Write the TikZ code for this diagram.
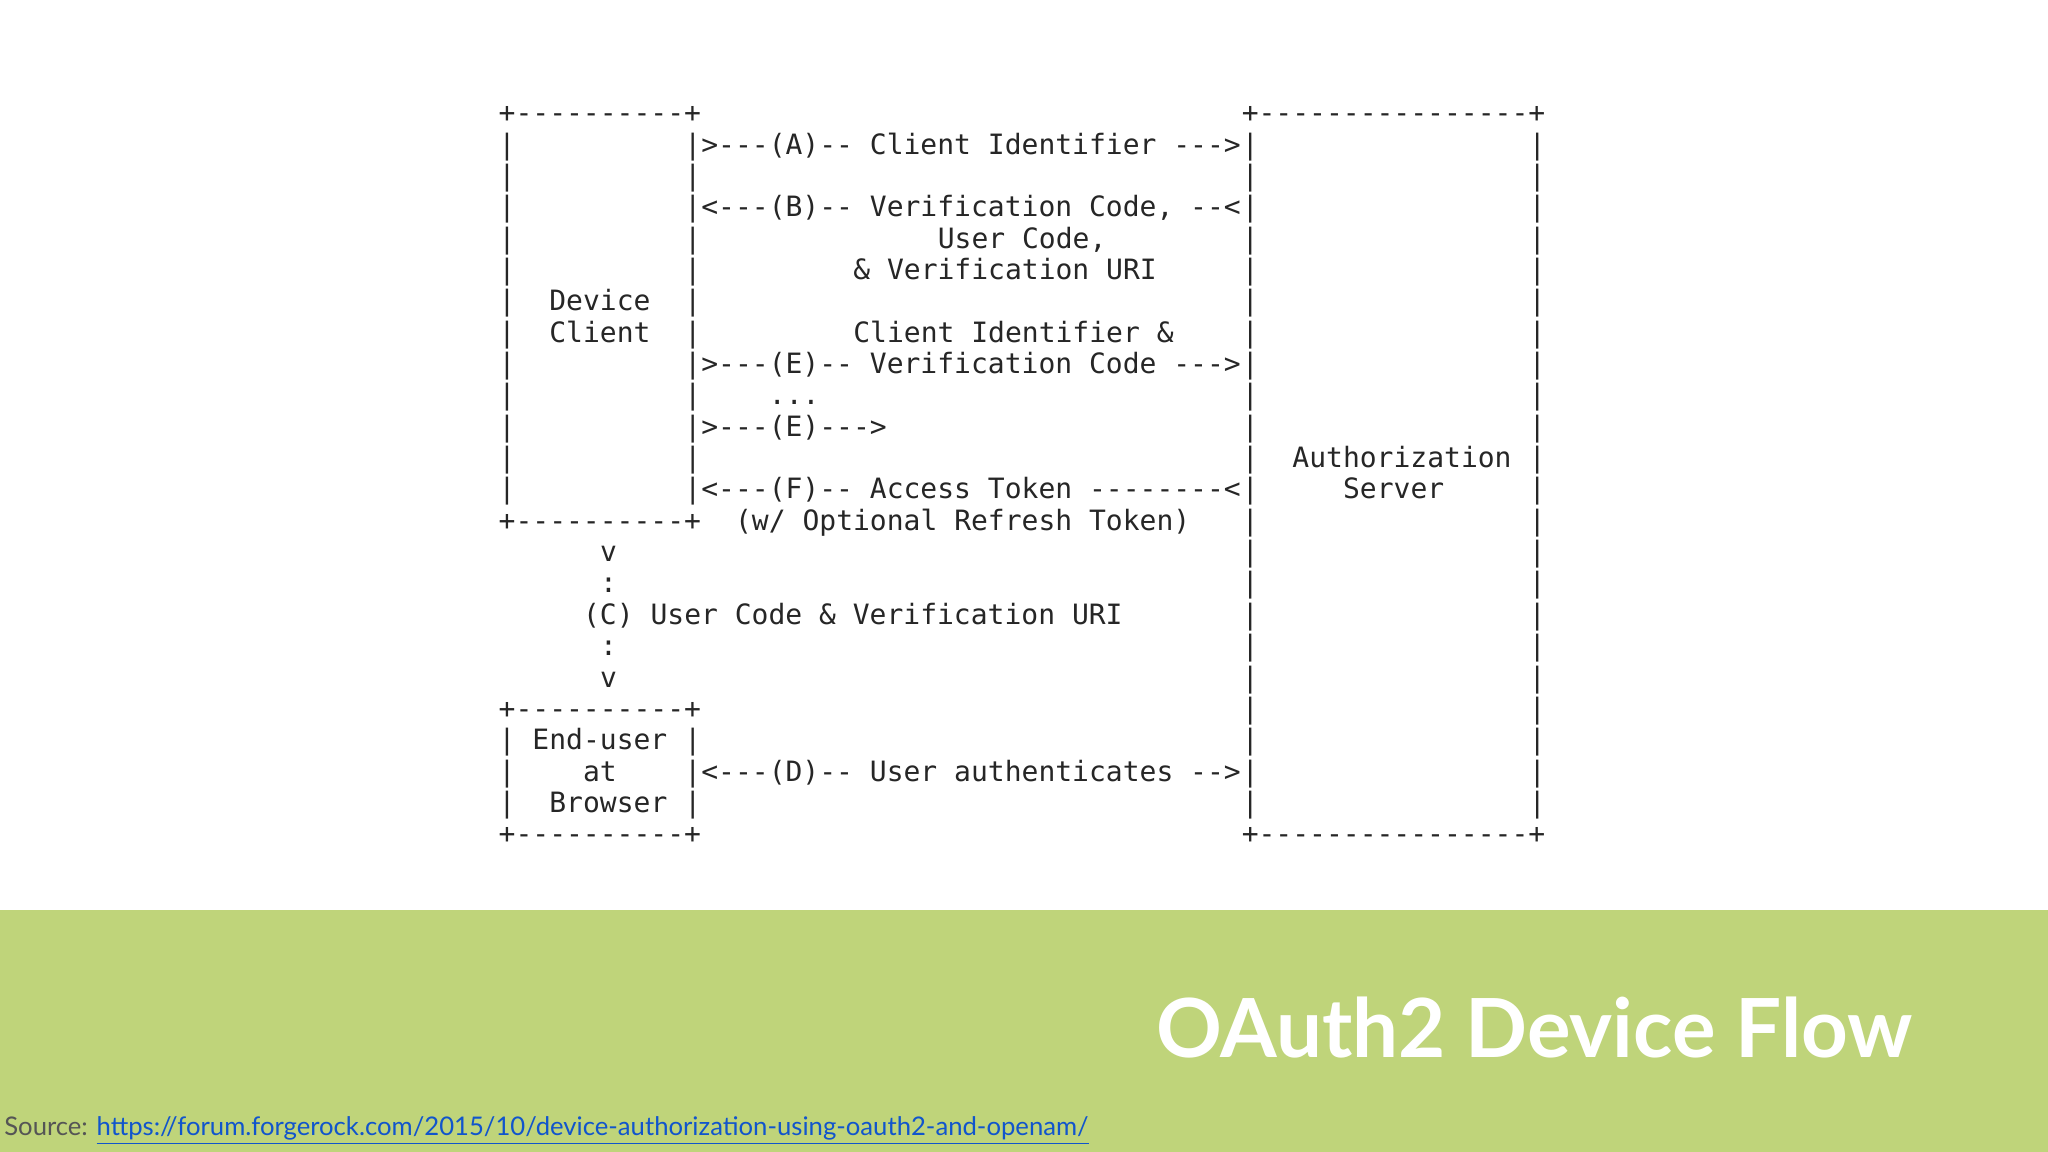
\documentclass[tikz,border=0pt]{standalone}
\usepackage{fontspec}
\newfontfamily\mono{DejaVu Sans Mono}[Ligatures=TeXOff]
\newfontfamily\titlefont{Lato}
\definecolor{band}{HTML}{BFD47A}
\definecolor{linkblue}{HTML}{1155CC}
\definecolor{srcgray}{HTML}{555555}
\newcommand{\seg}[4]{\node[seg] (#1) at ({381.5+12.93*#2},{85+24*#3+9}) {#4};}
\begin{document}
\begin{tikzpicture}[x=0.653pt,y=-0.653pt,
  seg/.style={anchor=base west,inner sep=0pt,font=\mono\fontsize{14}{14}\selectfont,text=black!85}]
\useasboundingbox (0,0) rectangle (1568,882);
\fill[white] (0,0) rectangle (1568,697);
\fill[band] (0,697) rectangle (1568,882);
% borders
\seg{tlb}{0}{0}{+----------+}
\seg{trb}{44}{0}{+----------------+}
\foreach \k in {1,...,12}{\seg{lbl\k}{0}{\k}{|}\seg{lbr\k}{11}{\k}{|}}
\foreach \k in {1,...,22}{\seg{rbl\k}{44}{\k}{|}\seg{rbr\k}{61}{\k}{|}}
\seg{lbb}{0}{13}{+----------+}
\seg{ebt}{0}{19}{+----------+}
\foreach \k in {20,21,22}{\seg{ebl\k}{0}{\k}{|}\seg{ebr\k}{11}{\k}{|}}
\seg{ebb}{0}{23}{+----------+}
\seg{rbb}{44}{23}{+----------------+}
% labels
\seg{dev}{3}{6}{Device}
\seg{cli}{3}{7}{Client}
\seg{eu}{2}{20}{End-user}
\seg{at}{5}{21}{at}
\seg{br}{3}{22}{Browser}
\seg{auth}{47}{11}{Authorization}
\seg{srv}{50}{12}{Server}
% messages
\seg{mA}{12}{1}{>---(A)-- Client Identifier --->}
\seg{mB}{12}{3}{<---(B)-- Verification Code, --<}
\seg{mB2}{26}{4}{User Code,}
\seg{mB3}{21}{5}{\& Verification URI}
\seg{mE0}{21}{7}{Client Identifier \&}
\seg{mE}{12}{8}{>---(E)-- Verification Code --->}
\seg{dots}{16}{9}{...}
\seg{mE2}{12}{10}{>---(E)--->}
\seg{mF}{12}{12}{<---(F)-- Access Token --------<}
\seg{mF2}{14}{13}{(w/ Optional Refresh Token)}
\seg{v1}{6}{14}{v}
\seg{c1}{6}{15}{:}
\seg{mC}{5}{16}{(C) User Code \& Verification URI}
\seg{c2}{6}{17}{:}
\seg{v2}{6}{18}{v}
\seg{mD}{12}{21}{<---(D)-- User authenticates -->}
% title and source
\node[anchor=center,inner sep=0pt,text=white] (title) at (1175,787)
  {\resizebox{378pt}{!}{\titlefont\bfseries OAuth2 Device Flow}};
\node[anchor=west,inner sep=0pt] (src) at (3,866)
  {\resizebox{542pt}{!}{\titlefont\color{srcgray}Source: \color{linkblue}\underline{https://forum.forgerock.com/2015/10/device-authorization-using-oauth2-and-openam/}}};
\end{tikzpicture}
\end{document}
